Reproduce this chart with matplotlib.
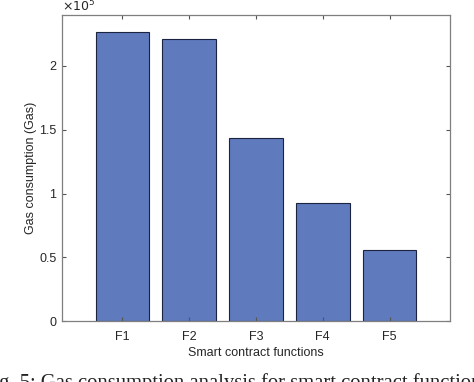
import numpy as np
import matplotlib.pyplot as plt

# bar data (units of 1e5 gas)
functions = ['F1', 'F2', 'F3', 'F4', 'F5']
gas = [2.266, 2.213, 1.434, 0.93, 0.557]
yticks = [0, 0.5, 1, 1.5, 2]
ytick_labels = ['0', '0.5', '1', '1.5', '2']

plt.rcParams['font.family'] = ['Liberation Sans', 'DejaVu Sans']

fig = plt.figure(figsize=(4.74, 3.82), dpi=100)
ax = fig.add_axes([0.131, 0.159, 0.818, 0.802])

x = np.arange(1, len(functions) + 1)
ax.bar(x, gas, width=0.8, color='#5f7abd', edgecolor='#1a2440', linewidth=0.8)

ax.set_xlim(0.1, 5.9)
ax.set_ylim(0, 2.4)
ax.set_xticks(x)
ax.set_xticklabels(functions)
ax.set_yticks(yticks)
ax.set_yticklabels(ytick_labels)

# matlab-ish box and inward ticks
for s in ax.spines.values():
    s.set_color('#7f7f7f')
    s.set_linewidth(0.9)
ax.tick_params(direction='in', top=True, right=True, length=3,
               color='#555555', labelsize=9, labelcolor='#262626', pad=4)
ax.tick_params(axis='x', pad=7)

ax.set_xlabel('Smart contract functions', fontsize=9, color='#262626', labelpad=3)
ax.set_ylabel('Gas consumption (Gas)', fontsize=9, color='#262626', labelpad=2)

ax.text(0.0, 1.002, r'$\times10^{5}$', transform=ax.transAxes, fontsize=9,
        color='#262626', va='bottom', ha='left')

# figure caption, cut off at the bottom edge of the image
fig.text(0.497, -0.016, 'Fig. 5: Gas consumption analysis for smart contract functions',
         family='Liberation Serif', fontsize=14.9, ha='center', va='baseline', color='#222222')

fig.savefig('out.png', dpi=100)
